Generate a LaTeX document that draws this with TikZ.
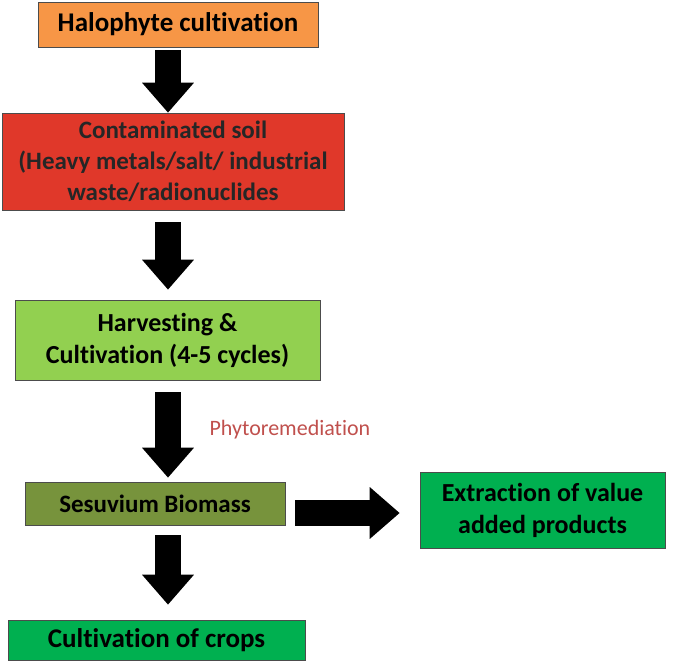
\documentclass[tikz,border=0pt]{standalone}
\usepackage{fontspec}
\setmainfont[RawFeature={-liga;-calt;-clig;-dlig}]{Carlito}
\usetikzlibrary{arrows.meta}
\definecolor{orng}{HTML}{F79646}
\definecolor{redb}{HTML}{E0382A}
\definecolor{lgrn}{HTML}{92D050}
\definecolor{olive}{HTML}{77933C}
\definecolor{grn}{HTML}{00B050}
\definecolor{phyto}{HTML}{C0504D}
\tikzset{
  box/.style={draw=black!70, line width=0.6pt, align=center, font=\fontsize{27}{32}\selectfont\bfseries, inner sep=0pt},
  bigarrow/.style={line width=26pt, -{Triangle[width=50pt,length=30pt]}, black}
}
\begin{document}
\begin{tikzpicture}[x=1pt,y=-1pt]
\useasboundingbox (0,0) rectangle (685,664);
\node[box, fill=orng, minimum width=280, minimum height=45] (a) at (178,24.5) {Halophyte cultivation};
\node[box, fill=redb, text=black!85, font=\fontsize{25}{31}\selectfont\bfseries, minimum width=342, minimum height=97] (b) at (173,161.5) {Contaminated soil\\(Heavy metals/salt/ industrial\\waste/radionuclides};
\node[box, fill=lgrn, minimum width=305, minimum height=80, font=\fontsize{26}{32}\selectfont\bfseries] (c) at (167.5,340) {Harvesting \&\\Cultivation (4-5 cycles)};
\node[box, fill=olive, minimum width=260, minimum height=43, font=\fontsize{25}{28}\selectfont\bfseries] (d) at (155,503.5) {Sesuvium Biomass};
\node[box, fill=grn, minimum width=245, minimum height=76, font=\fontsize{26}{32}\selectfont\bfseries] (e) at (542.5,510) {Extraction of value\\added products};
\node[box, fill=grn, minimum width=297, minimum height=40] (f) at (156.5,640) {Cultivation of crops};
\node[text=phyto, font=\fontsize{22}{26}\selectfont, anchor=west] (p) at (206,430) {Phytoremediation};
\draw[bigarrow, shorten <=3pt] ([xshift=-10pt]a.south) -- ([xshift=-5pt]b.north);
\draw[bigarrow, shorten <=12pt, shorten >=10pt] ([xshift=-5pt]b.south) -- ([xshift=0.5pt]c.north);
\draw[bigarrow, shorten <=12pt, shorten >=4pt] ([xshift=0.5pt]c.south) -- ([xshift=13pt]d.north);
\draw[bigarrow, shorten <=10pt, shorten >=15pt] ([xshift=13pt]d.south) -- ([xshift=11.5pt]f.north);
\draw[bigarrow, shorten <=10pt, shorten >=20pt] ([yshift=-9.5pt]d.east) -- ([yshift=-3pt]e.west);
\end{tikzpicture}
\end{document}
